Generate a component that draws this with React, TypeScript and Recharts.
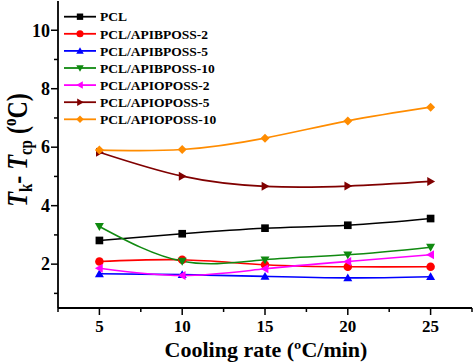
import React from 'react';
import { LineChart, Line, XAxis, YAxis, Legend } from 'recharts';

const coolingRates = [5, 10, 15, 20, 25];
const pcl = [2.81, 3.04, 3.23, 3.33, 3.56];
const apib2 = [2.09, 2.15, 1.98, 1.91, 1.91];
const apib5 = [1.67, 1.64, 1.58, 1.53, 1.57];
const apib10 = [3.29, 2.1, 2.15, 2.32, 2.58];
const apio2 = [1.86, 1.61, 1.84, 2.09, 2.32];
const apio5 = [5.83, 5.01, 4.66, 4.67, 4.83];
const apio10 = [5.9, 5.92, 6.31, 6.9, 7.37];

const seriesNames = [
  'PCL',
  'PCL/APIBPOSS-2',
  'PCL/APIBPOSS-5',
  'PCL/APIBPOSS-10',
  'PCL/APIOPOSS-2',
  'PCL/APIOPOSS-5',
  'PCL/APIOPOSS-10',
];
const seriesValues = [pcl, apib2, apib5, apib10, apio2, apio5, apio10];
const seriesColors = ['#000000', '#ff0000', '#0000ff', '#108a10', '#ff00ff', '#800000', '#ff8c00'];
const seriesShapes = ['square', 'circle', 'up', 'down', 'left', 'right', 'diamond'];

const xTicks = [2.5, 5, 7.5, 10, 12.5, 15, 17.5, 20, 22.5, 25, 27.5];
const xMajor = [5, 10, 15, 20, 25];
const yTicks = [1, 2, 3, 4, 5, 6, 7, 8, 9, 10];
const yMajor = [2, 4, 6, 8, 10];

const data = coolingRates.map((r, i) => {
  const row: any = { rate: r };
  seriesValues.forEach((vals, k) => {
    row['s' + k] = vals[i];
  });
  return row;
});

const FONT = "'Liberation Serif', 'Times New Roman', serif";

function marker(shape: string, cx: number, cy: number, s: number, color: string, key?: any) {
  const h = s / 2;
  switch (shape) {
    case 'square':
      return <rect key={key} x={cx - h * 0.85} y={cy - h * 0.85} width={s * 0.85} height={s * 0.85} fill={color} />;
    case 'circle':
      return <circle key={key} cx={cx} cy={cy} r={h * 0.95} fill={color} />;
    case 'up':
      return <path key={key} d={`M${cx},${cy - h} L${cx + h},${cy + h * 0.75} L${cx - h},${cy + h * 0.75} Z`} fill={color} />;
    case 'down':
      return <path key={key} d={`M${cx},${cy + h} L${cx + h},${cy - h * 0.75} L${cx - h},${cy - h * 0.75} Z`} fill={color} />;
    case 'left':
      return <path key={key} d={`M${cx - h},${cy} L${cx + h * 0.75},${cy - h} L${cx + h * 0.75},${cy + h} Z`} fill={color} />;
    case 'right':
      return <path key={key} d={`M${cx + h},${cy} L${cx - h * 0.75},${cy - h} L${cx - h * 0.75},${cy + h} Z`} fill={color} />;
    case 'diamond':
    default:
      return <path key={key} d={`M${cx},${cy - h} L${cx + h},${cy} L${cx},${cy + h} L${cx - h},${cy} Z`} fill={color} />;
  }
}

const XTick = (props: any) => {
  const { x, y, payload } = props;
  const major = xMajor.includes(payload.value);
  return (
    <g>
      <line x1={x} x2={x} y1={y} y2={y + (major ? 7 : 4)} stroke="#000" strokeWidth={1.5} />
      {major && (
        <text x={x} y={332} textAnchor="middle" fontFamily={FONT} fontWeight="bold" fontSize={17} fill="#000">
          {payload.value}
        </text>
      )}
    </g>
  );
};

const YTick = (props: any) => {
  const { x, y, payload } = props;
  const major = yMajor.includes(payload.value);
  return (
    <g>
      <line x1={x - (major ? 7 : 4)} x2={x} y1={y} y2={y} stroke="#000" strokeWidth={1.5} />
      {major && (
        <text x={50} y={y} dy="0.35em" textAnchor="end" fontFamily={FONT} fontWeight="bold" fontSize={18} fill="#000">
          {payload.value}
        </text>
      )}
    </g>
  );
};

const XTitle = () => (
  <text x={266} y={357} textAnchor="middle" fontFamily={FONT} fontWeight="bold" fontSize={22} fill="#000">
    Cooling rate (ºC/min)
  </text>
);

const YTitle = () => (
  <text
    transform="translate(27,150) rotate(-90) scale(1,1.2)"
    x={0}
    y={0}
    textAnchor="middle"
    fontFamily={FONT}
    fontWeight="bold"
    fontSize={24}
    fill="#000"
  >
    <tspan fontStyle="italic">T</tspan>
    <tspan fontSize={15} dy={4}>k</tspan>
    <tspan dy={-4}>- </tspan>
    <tspan fontStyle="italic">T</tspan>
    <tspan fontSize={15} dy={4}>cp</tspan>
    <tspan dy={-4}> (</tspan>
    <tspan fontSize={15} dy={-9}>o</tspan>
    <tspan dy={9}>C)</tspan>
  </text>
);

const LegendContent = () => (
  <svg width={240} height={130} style={{ display: 'block' }}>
    {seriesNames.map((name, i) => {
      const cy = 16.7 + i * 17.1;
      return (
        <g key={name}>
          <line x1={64} x2={96} y1={cy} y2={cy} stroke={seriesColors[i]} strokeWidth={1.8} />
          {marker(seriesShapes[i], 80, cy, 7.5, seriesColors[i])}
          <text x={100} y={cy} dy="0.35em" fontFamily={FONT} fontWeight="bold" fontSize={13.5} fill="#000">
            {name}
          </text>
        </g>
      );
    })}
  </svg>
);

export default function App() {
  return (
    <div style={{ position: 'absolute', left: 0, top: 0, width: 474, height: 363, background: '#fff' }}>
      <LineChart width={474} height={363} data={data} margin={{ top: 1, right: 2, bottom: 0, left: 0 }}>
        <XAxis
          dataKey="rate"
          type="number"
          domain={[2.5, 27.5]}
          ticks={xTicks}
          interval={0}
          allowDataOverflow
          height={55}
          tickSize={0}
          tickMargin={0}
          tickLine={false}
          axisLine={{ stroke: '#000', strokeWidth: 1.8 }}
          tick={<XTick />}
          label={{ content: () => <XTitle /> } as any}
        />
        <XAxis
          xAxisId="top"
          orientation="top"
          dataKey="rate"
          type="number"
          domain={[2.5, 27.5]}
          height={0}
          tick={false}
          tickLine={false}
          axisLine={{ stroke: '#000', strokeWidth: 1.8 }}
        />
        <YAxis
          type="number"
          domain={[0.5, 11]}
          ticks={yTicks}
          interval={0}
          allowDataOverflow
          width={58}
          tickSize={0}
          tickMargin={0}
          tickLine={false}
          axisLine={{ stroke: '#000', strokeWidth: 1.8 }}
          tick={<YTick />}
          label={{ content: () => <YTitle /> } as any}
        />
        <YAxis
          yAxisId="right"
          orientation="right"
          type="number"
          domain={[0.5, 11]}
          width={0}
          tick={false}
          tickLine={false}
          axisLine={{ stroke: '#000', strokeWidth: 1.8 }}
        />
        <Legend
          layout="vertical"
          align="center"
          verticalAlign="middle"
          wrapperStyle={{ left: 0, top: 0, width: 240, height: 130 }}
          content={() => <LegendContent />}
        />
        {seriesNames.map((name, i) => (
          <Line
            key={name}
            name={name}
            dataKey={'s' + i}
            type="natural"
            stroke={seriesColors[i]}
            strokeWidth={1.6}
            isAnimationActive={false}
            dot={(p: any) => marker(seriesShapes[i], p.cx, p.cy, 9, seriesColors[i], 'd' + i + '-' + p.index)}
            activeDot={false}
          />
        ))}
      </LineChart>
    </div>
  );
}
